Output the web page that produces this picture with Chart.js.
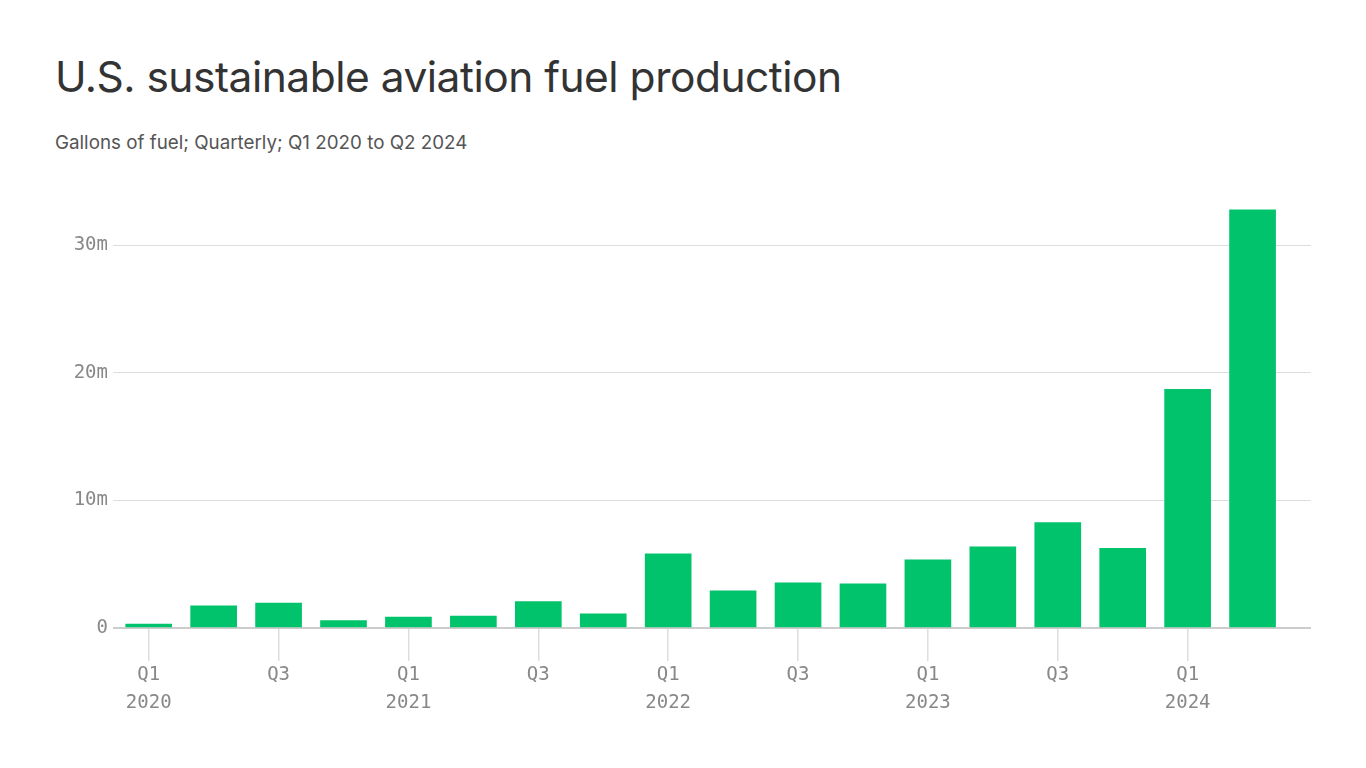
<!DOCTYPE html>
<html>
<head>
<meta charset="utf-8">
<script src="https://cdn.jsdelivr.net/npm/chart.js@4/dist/chart.umd.min.js"></script>
<style>
  html, body { margin: 0; padding: 0; background: #fff; }
  #wrap { position: relative; width: 1366px; height: 768px; overflow: hidden; }
  h1 {
    position: absolute; left: 55px; top: 51px; margin: 0;
    font-family: Inter, "Noto Sans", sans-serif; font-weight: 400;
    font-size: 42.5px; color: #333; letter-spacing: -0.5px;
  }
  .sub {
    position: absolute; left: 55px; top: 131px; margin: 0;
    font-family: Inter, "Noto Sans", sans-serif;
    font-size: 18.8px; color: #555;
  }
  .chart-box { position: absolute; left: 0; top: 0; width: 1366px; height: 768px; }
</style>
</head>
<body>
<div id="wrap">
  <h1>U.S. sustainable aviation fuel production</h1>
  <p class="sub">Gallons of fuel; Quarterly; Q1 2020 to Q2 2024</p>
  <div class="chart-box"><canvas id="fuelChart"></canvas></div>
</div>
<script>
// Quarters, Q1 2020 .. Q2 2024
const quarters = ['Q1', 'Q2', 'Q3', 'Q4', 'Q1', 'Q2', 'Q3', 'Q4', 'Q1', 'Q2', 'Q3', 'Q4', 'Q1', 'Q2', 'Q3', 'Q4', 'Q1', 'Q2'];
const years = ['2020', '2020', '2020', '2020', '2021', '2021', '2021', '2021', '2022', '2022', '2022', '2022', '2023', '2023', '2023', '2023', '2024', '2024'];
// millions of gallons
const gallons = [0.31, 1.73, 1.96, 0.58, 0.86, 0.94, 2.08, 1.11, 5.82, 2.92, 3.55, 3.47, 5.35, 6.37, 8.26, 6.24, 18.7, 32.77];
const yTicks = [0, 10, 20, 30];

const tickFont = { family: '"DejaVu Sans Mono", "Liberation Mono", monospace', size: 19 };

// size canvas to the full frame
const cv = document.getElementById('fuelChart');
cv.width = 1366;
cv.height = 768;
cv.style.width = '1366px';
cv.style.height = '768px';

document.addEventListener('DOMContentLoaded', () => {
    const ctx = cv.getContext('2d');

    new Chart(ctx, {
        type: 'bar',
        data: {
            datasets: [{
                data: gallons.map((v, i) => ({ x: i, y: v })),
                backgroundColor: '#00c36b',
                borderWidth: 0,
                barThickness: 46
            }]
        },
        options: {
            responsive: false,
            animation: false,
            layout: { padding: { top: 207, right: 55, bottom: 0, left: 0 } },
            plugins: {
                legend: { display: false },
                tooltip: { enabled: false }
            },
            scales: {
                x: {
                    type: 'linear',
                    offset: false,
                    min: -0.55,
                    max: 17.9,
                    afterFit: (scale) => { scale.height = 140; },
                    afterBuildTicks: (scale) => {
                        scale.ticks = quarters
                            .map((q, i) => ({ value: i }))
                            .filter(t => t.value % 2 === 0);
                    },
                    border: { display: false },
                    grid: {
                        offset: false,
                        drawOnChartArea: false,
                        drawTicks: true,
                        tickLength: 33,
                        color: '#dedede',
                        lineWidth: 1.5
                    },
                    ticks: {
                        autoSkip: false,
                        maxRotation: 0,
                        padding: 0,
                        color: '#888',
                        font: { ...tickFont, lineHeight: 1.47 },
                        callback: (value) => {
                            const i = Math.round(value);
                            return quarters[i] === 'Q1' ? [quarters[i], years[i]] : quarters[i];
                        }
                    }
                },
                y: {
                    min: 0,
                    max: 33,
                    afterFit: (scale) => { scale.width = 113; },
                    border: { display: false },
                    grid: {
                        drawTicks: false,
                        color: (c) => c.tick && c.tick.value === 0 ? '#cccccc' : '#dddddd',
                        lineWidth: (c) => c.tick && c.tick.value === 0 ? 2 : 1
                    },
                    afterBuildTicks: (scale) => {
                        scale.ticks = yTicks.map(v => ({ value: v }));
                    },
                    ticks: {
                        padding: 5,
                        color: '#888',
                        font: tickFont,
                        callback: (value) => value === 0 ? '0' : value + 'm'
                    }
                }
            }
        }
    });
});
</script>
</body>
</html>
